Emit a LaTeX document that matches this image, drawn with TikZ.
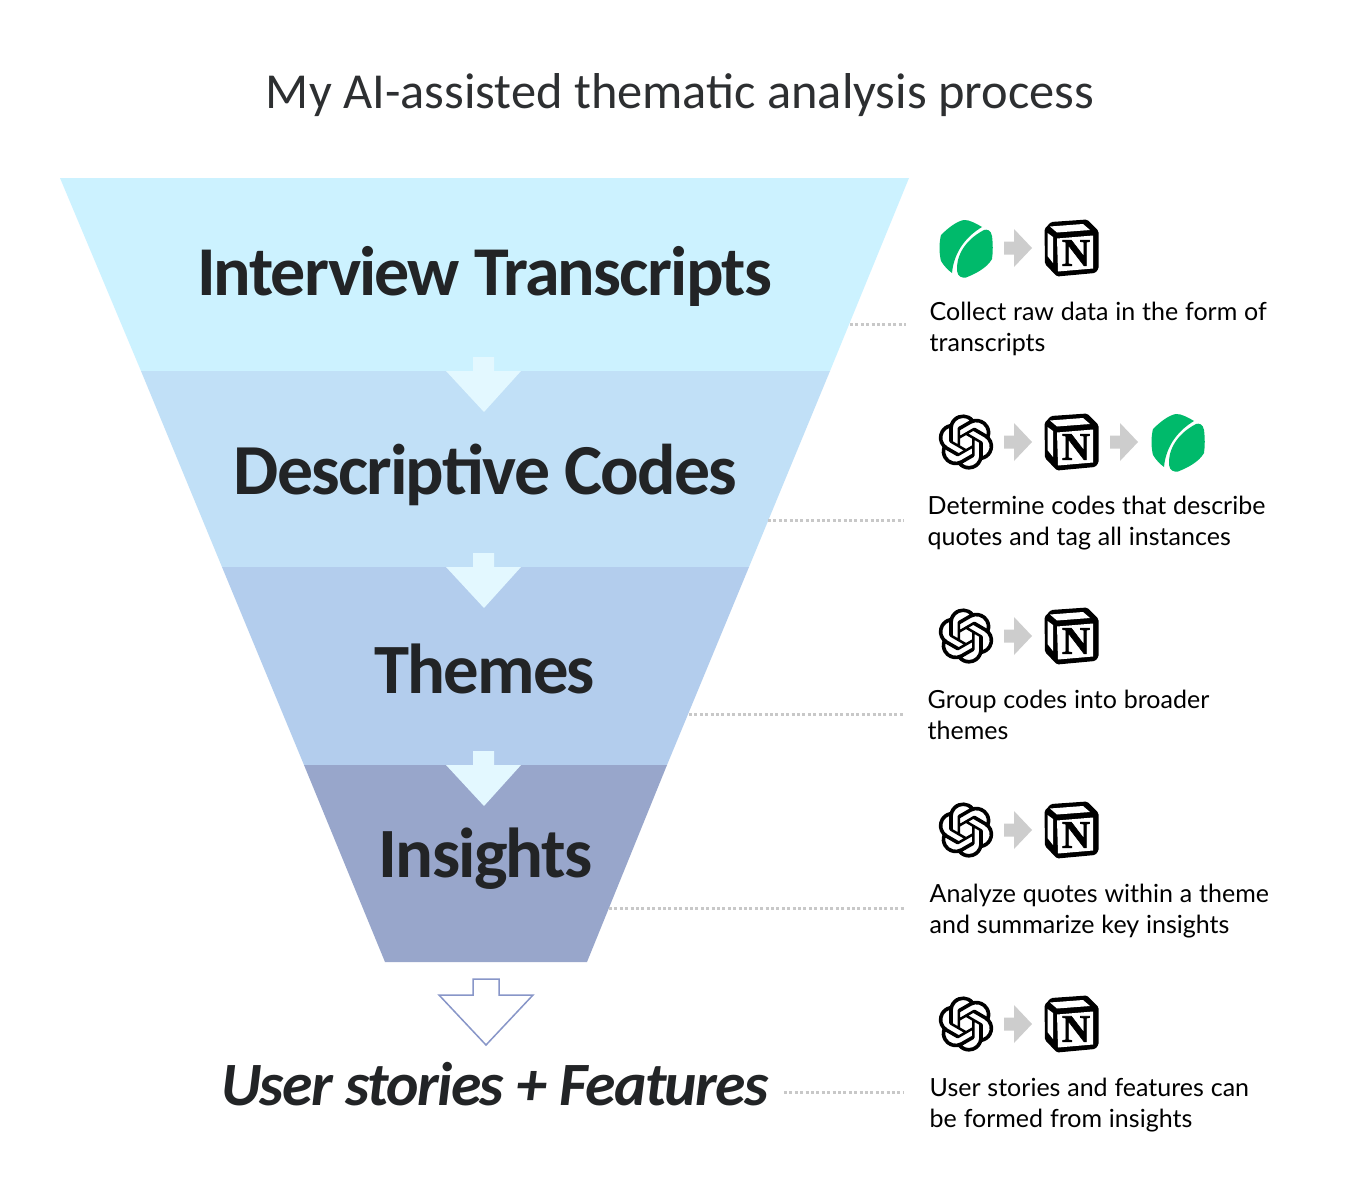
\documentclass[tikz,border=0pt]{standalone}
\usepackage{fontspec}
\setmainfont{Lato}
\newfontfamily\headfont[LetterSpace=-2.5]{Carlito}
\newfontfamily\titlefont{Carlito}
\newfontfamily\letterfont[FakeBold=1.5]{Liberation Serif}
\usetikzlibrary{positioning, svg.path}
\definecolor{layerA}{HTML}{CCF2FF}
\definecolor{layerB}{HTML}{C1E0F7}
\definecolor{layerC}{HTML}{B3CDED}
\definecolor{layerD}{HTML}{98A6CB}
\definecolor{flowarrow}{HTML}{E3F8FF}
\definecolor{inktext}{HTML}{222426}
\definecolor{leafgreen}{HTML}{00BA6B}
\definecolor{stepgray}{HTML}{CDCDCD}
\definecolor{leadergray}{HTML}{C8C8C8}
\definecolor{outlinearrow}{HTML}{8896C8}
\newcommand{\layerfont}[1]{\headfont\bfseries\fontsize{#1}{#1}\selectfont}
\tikzset{
  layerlabel/.style = {font=\layerfont{70}, text=inktext, inner sep=0pt},
  steptext/.style = {font=\fontsize{25}{31}\selectfont, align=left, anchor=north west, inner sep=0pt, text=black, text width=360pt,
    execute at begin node={\spaceskip=6.85pt\relax}},
  leader/.style = {leadergray, line width=3pt, dash pattern=on 3pt off 2.4pt},
  pics/leaf/.style = {code = {
    \fill[leafgreen] (-25,-13) .. controls (-18,-20) and (-9,-27) .. (-2,-28) .. controls (3,-28.5) and (11,-24) .. (16,-21) .. controls (1,-12) and (-12,3) .. (-14,25) .. controls (-18,22) and (-22,18) .. (-25,13) .. controls (-27,5) and (-27,-5) .. (-25,-13) -- cycle;
    \fill[leafgreen] (18,-18) .. controls (21,-19) and (25,-18) .. (26,-12) .. controls (27,-4) and (27,4) .. (26,11) .. controls (21,20) and (9,26) .. (0,29.5) .. controls (-4,30) and (-8,29) .. (-9,23) .. controls (-10,10) and (-3,-7) .. (18,-18) -- cycle;
  }},
  pics/notion/.style = {code = {
    \fill[black, rounded corners=1.5pt] (-27.5,-19) -- (-21,-26) -- (15,-28.5) -- (26.5,-17) -- (26.5,21) -- (23,25) -- (-15,28.5) -- (-27,16) -- cycle;
    \fill[white] (-22,-21.5) -- (11,-24) -- (18,-18) -- (-15,-15.5) -- cycle;
    \fill[white] (-24.5,-15) -- (-19,-11) -- (-19,15) -- (-24.5,8) -- cycle;
    \fill[white] (-15,-9.5) -- (21,-12.5) -- (21,20.5) -- (-14,23.5) -- cycle;
    \node[font=\letterfont\bfseries\fontsize{39}{39}\selectfont, inner sep=0pt] (-letter) at (4,5) {N};
  }},
  pics/knot/.style = {code = {
    \fill[black, even odd rule, cm={2.3,0,0,-2.3,(-27.6pt,27.6pt)}] svg {M22.2819 9.8211a5.9847 5.9847 0 0 0-.5157-4.9108 6.0462 6.0462 0 0 0-6.5098-2.9A6.0651 6.0651 0 0 0 4.9807 4.1818a5.9847 5.9847 0 0 0-3.9977 2.9 6.0462 6.0462 0 0 0 .7427 7.0966 5.98 5.98 0 0 0 .511 4.9107 6.051 6.051 0 0 0 6.5146 2.9001A5.9847 5.9847 0 0 0 13.2599 24a6.0557 6.0557 0 0 0 5.7718-4.2058 5.9894 5.9894 0 0 0 3.9977-2.9001 6.0557 6.0557 0 0 0-.7475-7.0729zM13.2599 22.4292a4.4755 4.4755 0 0 1-2.8764-1.0408l.1419-.0804 4.7783-2.7582a.7948.7948 0 0 0 .3927-.6813v-6.7369l2.02 1.1686a.071.071 0 0 1 .038.052v5.5826a4.504 4.504 0 0 1-4.4945 4.4944zM3.5992 18.3038a4.4708 4.4708 0 0 1-.5346-3.0137l.142.0852 4.783 2.7582a.7712.7712 0 0 0 .7806 0l5.8428-3.3685v2.3324a.0804.0804 0 0 1-.0332.0615L9.74 19.9502a4.4992 4.4992 0 0 1-6.1408-1.6464zM2.3408 7.8956a4.485 4.485 0 0 1 2.3655-1.9728V11.6a.7664.7664 0 0 0 .3879.6765l5.8144 3.3543-2.0201 1.1685a.0757.0757 0 0 1-.071 0l-4.8303-2.7865A4.504 4.504 0 0 1 2.3408 7.872zM18.9371 11.7514L13.1038 8.364 15.1192 7.2a.0757.0757 0 0 1 .071 0l4.8303 2.7913a4.4944 4.4944 0 0 1-.6765 8.1042v-5.6772a.79.79 0 0 0-.407-.667zM20.9478 8.7283l-.142-.0852-4.7735-2.7818a.7759.7759 0 0 0-.7854 0L9.409 9.2297V6.8974a.0662.0662 0 0 1 .0284-.0615l4.8303-2.7866a4.4992 4.4992 0 0 1 6.6802 4.66zM8.3065 12.863l-2.02-1.1638a.0804.0804 0 0 1-.038-.0567V6.0742a4.4992 4.4992 0 0 1 7.3757-3.4537l-.142.0805L8.704 5.459a.7948.7948 0 0 0-.3927.6813zM9.4041 10.4976l2.602-1.4998 2.6069 1.4998v2.9994l-2.5974 1.4997-2.6067-1.4997Z};
  }},
  pics/stepgo/.style = {code = {
    \fill[stepgray] (-14,-6.5) -- (-4,-6.5) -- (-4,-19) -- (14,0) -- (-4,19) -- (-4,6.5) -- (-14,6.5) -- cycle;
  }},
}
\begin{document}
\begin{tikzpicture}[x=1pt, y=-1pt]
    \useasboundingbox (0,0) rectangle (1358,1189);
    \fill[white] (0,0) rectangle (1358,1189);
    \node[font=\titlefont\fontsize{50.4}{50}\selectfont, text=inktext!95, inner sep=0pt] (heading) at (680,95.5) {My AI-assisted thematic analysis process};
    % funnel
    \fill[layerA] (60,178) -- (909,178) -- (830,371) -- (141,371) -- cycle;
    \fill[layerB] (141,371) -- (830,371) -- (749,567) -- (222,567) -- cycle;
    \fill[layerC] (222,567) -- (749,567) -- (667,765) -- (304,765) -- cycle;
    \fill[layerD] (304,765) -- (667,765) -- (587,962) -- (385,962) -- cycle;
    % arrows between layers
    \foreach \ytop/\yhead in {357/371, 553/567, 751/765}
      \fill[flowarrow] (473,\ytop) -- (494,\ytop) -- (494,\yhead) -- (521,\yhead) -- (484,\yhead+41) -- (446,\yhead) -- (473,\yhead) -- cycle;
    \draw[outlinearrow, line width=1.5pt] (473,979) -- (499,979) -- (499,995) -- (533,995) -- (486,1045) -- (439,995) -- (473,995) -- cycle;
    \node[layerlabel] (transcripts) at (484.5,276) {Interview Transcripts};
    \node[layerlabel, font=\layerfont{71.8}] (codes) at (485.5,475) {Descriptive Codes};
    \node[layerlabel, font=\layerfont{70.7}] (themes) at (484.5,669) {Themes};
    \node[layerlabel, font=\layerfont{70.7}] (insights) at (485.5,859) {Insights};
    \node[layerlabel, font=\headfont\bfseries\itshape\fontsize{61.6}{62}\selectfont] (stories) at (495,1084) {User stories + Features};
    % icons
    \pic at (966,248) {leaf};
    \pic at (1018,248) {stepgo};
    \pic (na) at (1072,248) {notion};
    \pic at (966,442) {knot};
    \pic at (1018,442) {stepgo};
    \pic (nb) at (1072,442) {notion};
    \pic at (1124,442) {stepgo};
    \pic at (1178,442) {leaf};
    \pic at (966,636) {knot};
    \pic at (1018,636) {stepgo};
    \pic (nc) at (1072,636) {notion};
    \pic at (966,830) {knot};
    \pic at (1018,830) {stepgo};
    \pic (nd) at (1072,830) {notion};
    \pic at (966,1024) {knot};
    \pic at (1018,1024) {stepgo};
    \pic (ne) at (1072,1024) {notion};
    % step texts
    \node[steptext] (stepa) at (929.5,302) {Collect raw data in the form of\\transcripts};
    \node[steptext] (stepb) at (927.5,496) {Determine codes that describe\\quotes and tag all instances};
    \node[steptext] (stepc) at (927.5,690) {Group codes into broader\\themes};
    \node[steptext] (stepd) at (929.5,884) {Analyze quotes within a theme\\and summarize key insights};
    \node[steptext] (stepe) at (929.5,1078) {User stories and features can\\be formed from insights};
    % leaders
    \coordinate (la) at (850,324);
    \coordinate (lb) at (768,520);
    \coordinate (lc) at (689,714);
    \coordinate (ld) at (609,908);
    \coordinate (le) at (784,1092);
    \draw[leader] (la) -- (906,324);
    \draw[leader] (lb) -- (904,520);
    \draw[leader] (lc) -- (904,714);
    \draw[leader] (ld) -- (904,908);
    \draw[leader] (le) -- (904,1092);
\end{tikzpicture}
\end{document}
